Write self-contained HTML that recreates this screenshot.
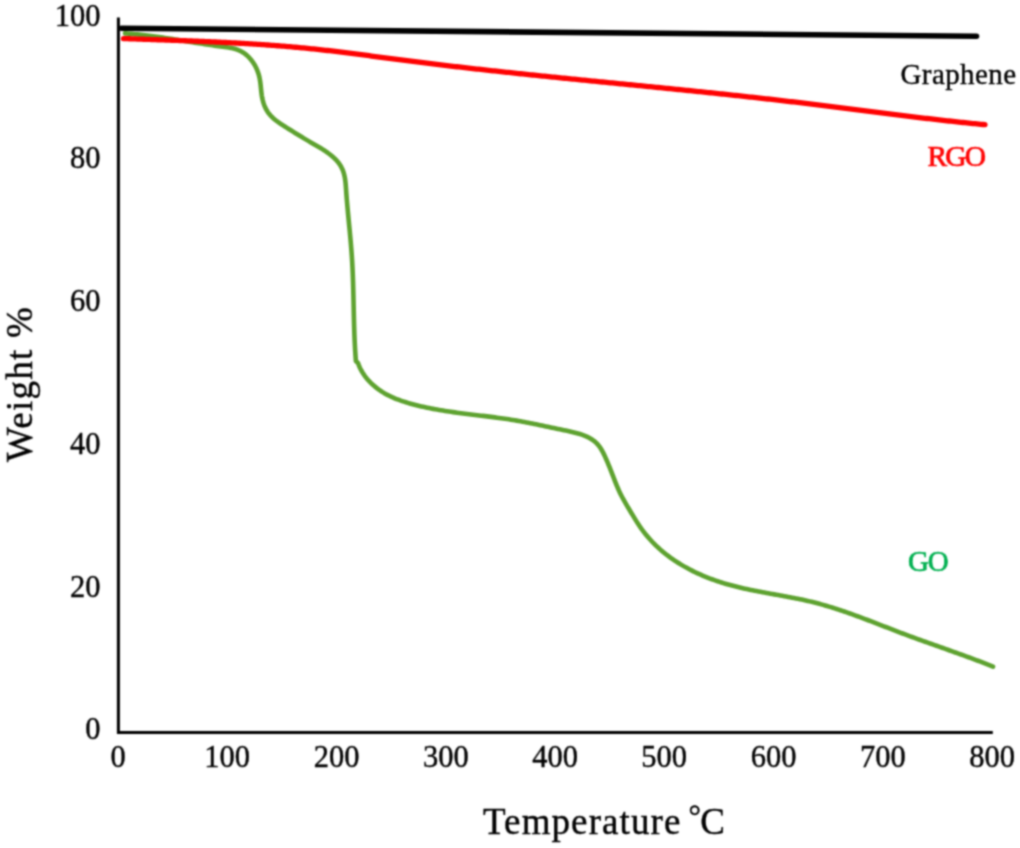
<!DOCTYPE html>
<html><head><meta charset="utf-8"><style>
html,body{margin:0;padding:0;background:#fff;}
svg{display:block;}
text{font-family:"Liberation Serif",serif;}
</style></head><body>
<svg width="1020" height="848" viewBox="0 0 1020 848">
<defs><filter id="bl" x="0" y="0" width="1020" height="848" filterUnits="userSpaceOnUse" color-interpolation-filters="sRGB"><feConvolveMatrix order="5" kernelMatrix="0.0009 0.0069 0.0139 0.0069 0.0009 0.0069 0.0554 0.1107 0.0554 0.0069 0.0139 0.1107 0.2211 0.1107 0.0139 0.0069 0.0554 0.1107 0.0554 0.0069 0.0009 0.0069 0.0139 0.0069 0.0009" edgeMode="duplicate"/></filter></defs>
<g filter="url(#bl)">
<rect width="1020" height="848" fill="#fff"/>
<polyline points="118.4,17.6 118.4,732.4 992.8,732.4" fill="none" stroke="#000" stroke-width="3.0" stroke-linejoin="miter"/>
<polyline points="121.5,28.2 976.5,36.3" fill="none" stroke="#000" stroke-width="5.6" stroke-linecap="round"/>
<path d="M125.00,33.40 L127.02,33.54 L129.03,33.69 L131.05,33.86 L133.05,34.03 L135.06,34.22 L137.07,34.41 L139.07,34.61 L141.07,34.82 L143.07,35.05 L145.06,35.27 L147.05,35.51 L149.05,35.76 L151.04,36.01 L153.03,36.27 L155.01,36.53 L157.00,36.80 L158.98,37.08 L160.97,37.36 L162.95,37.65 L164.93,37.94 L166.91,38.24 L168.90,38.54 L170.88,38.84 L172.86,39.14 L174.84,39.45 L176.82,39.76 L178.80,40.08 L180.78,40.39 L182.76,40.71 L184.74,41.02 L186.72,41.34 L188.70,41.66 L190.68,41.97 L192.66,42.29 L194.65,42.61 L196.63,42.92 L198.62,43.23 L200.61,43.54 L202.60,43.85 L204.59,44.15 L206.58,44.45 L208.58,44.75 L210.57,45.04 L212.57,45.33 L214.57,45.62 L216.57,45.90 L218.58,46.17 L220.59,46.44 L222.60,46.70 L224.61,46.96 L226.61,47.23 L228.61,47.53 L230.59,47.87 L232.54,48.28 L234.47,48.75 L236.35,49.32 L238.20,49.99 L240.00,50.78 L241.74,51.70 L243.43,52.74 L245.05,53.90 L246.61,55.16 L248.09,56.52 L249.50,57.97 L250.84,59.50 L252.09,61.10 L253.26,62.75 L254.34,64.47 L255.34,66.23 L256.25,68.05 L257.07,69.90 L257.81,71.79 L258.46,73.71 L259.02,75.65 L259.49,77.61 L259.87,79.59 L260.19,81.58 L260.45,83.57 L260.67,85.57 L260.87,87.58 L261.07,89.59 L261.28,91.59 L261.52,93.59 L261.80,95.59 L262.14,97.57 L262.56,99.54 L263.05,101.48 L263.63,103.40 L264.30,105.28 L265.05,107.11 L265.91,108.89 L266.87,110.61 L267.93,112.26 L269.11,113.83 L270.39,115.33 L271.76,116.77 L273.21,118.14 L274.74,119.46 L276.33,120.73 L277.96,121.95 L279.64,123.13 L281.35,124.29 L283.09,125.41 L284.83,126.52 L286.57,127.60 L288.29,128.68 L290.01,129.76 L291.72,130.82 L293.41,131.88 L295.10,132.93 L296.79,133.97 L298.48,135.01 L300.17,136.05 L301.86,137.07 L303.55,138.10 L305.25,139.11 L306.97,140.13 L308.69,141.13 L310.43,142.14 L312.19,143.14 L313.94,144.15 L315.70,145.16 L317.46,146.18 L319.21,147.22 L320.96,148.28 L322.68,149.36 L324.39,150.46 L326.07,151.60 L327.73,152.76 L329.35,153.97 L330.94,155.22 L332.48,156.51 L333.98,157.85 L335.43,159.24 L336.80,160.69 L338.10,162.21 L339.29,163.79 L340.38,165.44 L341.35,167.14 L342.22,168.91 L342.97,170.72 L343.61,172.58 L344.14,174.47 L344.59,176.40 L344.95,178.35 L345.24,180.34 L345.48,182.34 L345.68,184.36 L345.84,186.38 L345.99,188.42 L346.13,190.45 L346.27,192.49 L346.42,194.52 L346.57,196.54 L346.73,198.57 L346.90,200.59 L347.07,202.61 L347.24,204.62 L347.42,206.64 L347.60,208.65 L347.78,210.65 L347.97,212.66 L348.16,214.67 L348.35,216.67 L348.54,218.67 L348.73,220.67 L348.92,222.67 L349.11,224.66 L349.31,226.66 L349.50,228.65 L349.69,230.65 L349.88,232.64 L350.06,234.63 L350.25,236.63 L350.43,238.62 L350.61,240.61 L350.78,242.61 L350.95,244.60 L351.11,246.59 L351.27,248.59 L351.43,250.58 L351.58,252.57 L351.72,254.57 L351.86,256.57 L351.98,258.57 L352.11,260.57 L352.22,262.57 L352.33,264.57 L352.43,266.57 L352.53,268.58 L352.62,270.58 L352.71,272.59 L352.79,274.60 L352.86,276.61 L352.93,278.62 L353.00,280.63 L353.07,282.64 L353.13,284.65 L353.18,286.66 L353.24,288.67 L353.29,290.68 L353.34,292.70 L353.39,294.71 L353.44,296.72 L353.48,298.74 L353.53,300.75 L353.57,302.77 L353.61,304.78 L353.66,306.80 L353.70,308.81 L353.74,310.82 L353.79,312.84 L353.83,314.85 L353.88,316.87 L353.93,318.88 L353.98,320.89 L354.04,322.91 L354.09,324.92 L354.15,326.93 L354.21,328.94 L354.28,330.95 L354.35,332.96 L354.42,334.97 L354.50,336.98 L354.58,338.99 L354.67,340.99 L354.77,343.00 L354.87,345.00 L354.97,347.01 L355.08,349.01 L355.20,351.01 L355.33,353.01 L355.46,355.01 L355.60,357.01 L355.74,359.01 L355.90,361.00 L358.10,363.20 L358.79,365.08 L359.55,366.92 L360.40,368.72 L361.32,370.48 L362.32,372.20 L363.38,373.88 L364.52,375.52 L365.71,377.12 L366.97,378.68 L368.28,380.20 L369.65,381.67 L371.07,383.10 L372.54,384.49 L374.06,385.83 L375.61,387.12 L377.21,388.37 L378.84,389.57 L380.50,390.73 L382.19,391.84 L383.91,392.90 L385.66,393.91 L387.42,394.87 L389.21,395.78 L391.01,396.65 L392.82,397.48 L394.66,398.26 L396.51,399.01 L398.37,399.72 L400.24,400.41 L402.13,401.06 L404.02,401.68 L405.93,402.28 L407.84,402.86 L409.75,403.42 L411.68,403.96 L413.61,404.48 L415.54,404.99 L417.48,405.48 L419.42,405.95 L421.37,406.41 L423.32,406.85 L425.28,407.28 L427.24,407.70 L429.20,408.10 L431.17,408.49 L433.14,408.87 L435.12,409.24 L437.10,409.60 L439.08,409.94 L441.06,410.28 L443.05,410.60 L445.04,410.92 L447.03,411.23 L449.02,411.53 L451.02,411.82 L453.01,412.11 L455.01,412.39 L457.01,412.66 L459.01,412.93 L461.01,413.19 L463.02,413.45 L465.02,413.70 L467.02,413.95 L469.03,414.20 L471.03,414.45 L473.03,414.69 L475.04,414.94 L477.04,415.18 L479.04,415.42 L481.05,415.66 L483.05,415.90 L485.05,416.15 L487.04,416.39 L489.04,416.64 L491.04,416.89 L493.03,417.14 L495.02,417.40 L497.01,417.66 L499.00,417.93 L500.98,418.20 L502.96,418.48 L504.94,418.76 L506.91,419.05 L508.88,419.35 L510.85,419.66 L512.82,419.97 L514.78,420.29 L516.73,420.63 L518.69,420.97 L520.64,421.32 L522.58,421.67 L524.53,422.04 L526.47,422.41 L528.42,422.79 L530.36,423.17 L532.30,423.56 L534.25,423.96 L536.19,424.36 L538.14,424.76 L540.09,425.17 L542.05,425.58 L544.00,426.00 L545.96,426.42 L547.93,426.84 L549.90,427.26 L551.88,427.68 L553.86,428.10 L555.85,428.52 L557.84,428.94 L559.85,429.37 L561.86,429.79 L563.88,430.20 L565.91,430.62 L567.95,431.05 L569.98,431.48 L572.00,431.93 L574.02,432.40 L576.01,432.91 L577.98,433.45 L579.93,434.03 L581.84,434.65 L583.72,435.33 L585.56,436.07 L587.34,436.88 L589.08,437.76 L590.75,438.71 L592.37,439.75 L593.91,440.88 L595.38,442.10 L596.78,443.42 L598.09,444.85 L599.31,446.40 L600.46,448.04 L601.53,449.75 L602.54,451.54 L603.49,453.37 L604.40,455.24 L605.26,457.12 L606.09,459.00 L606.90,460.87 L607.69,462.72 L608.46,464.56 L609.22,466.40 L609.96,468.23 L610.70,470.08 L611.42,471.93 L612.15,473.80 L612.87,475.67 L613.59,477.55 L614.31,479.43 L615.05,481.31 L615.79,483.19 L616.55,485.06 L617.33,486.91 L618.12,488.76 L618.94,490.59 L619.79,492.40 L620.66,494.19 L621.56,495.95 L622.48,497.71 L623.43,499.45 L624.40,501.17 L625.38,502.89 L626.38,504.61 L627.39,506.32 L628.41,508.03 L629.43,509.75 L630.46,511.47 L631.50,513.20 L632.54,514.93 L633.59,516.67 L634.65,518.40 L635.72,520.13 L636.80,521.85 L637.90,523.56 L639.02,525.26 L640.16,526.94 L641.32,528.61 L642.51,530.24 L643.72,531.86 L644.95,533.45 L646.22,535.01 L647.50,536.55 L648.81,538.07 L650.14,539.56 L651.50,541.03 L652.88,542.48 L654.28,543.90 L655.70,545.30 L657.15,546.67 L658.61,548.02 L660.10,549.35 L661.61,550.66 L663.13,551.94 L664.67,553.20 L666.24,554.44 L667.82,555.66 L669.42,556.85 L671.03,558.02 L672.67,559.17 L674.31,560.30 L675.98,561.41 L677.66,562.49 L679.36,563.56 L681.07,564.60 L682.79,565.62 L684.53,566.62 L686.28,567.60 L688.05,568.56 L689.82,569.50 L691.61,570.42 L693.41,571.32 L695.22,572.20 L697.04,573.06 L698.88,573.90 L700.72,574.72 L702.57,575.52 L704.43,576.30 L706.30,577.07 L708.17,577.81 L710.06,578.53 L711.95,579.24 L713.84,579.93 L715.75,580.60 L717.66,581.25 L719.57,581.88 L721.49,582.50 L723.41,583.10 L725.34,583.68 L727.27,584.24 L729.21,584.78 L731.15,585.32 L733.09,585.83 L735.03,586.33 L736.98,586.82 L738.93,587.29 L740.88,587.76 L742.84,588.21 L744.80,588.65 L746.75,589.08 L748.72,589.50 L750.68,589.91 L752.65,590.31 L754.61,590.70 L756.58,591.09 L758.55,591.47 L760.52,591.85 L762.49,592.22 L764.47,592.58 L766.44,592.95 L768.41,593.31 L770.39,593.66 L772.36,594.02 L774.34,594.37 L776.31,594.73 L778.28,595.08 L780.26,595.44 L782.23,595.80 L784.20,596.16 L786.17,596.52 L788.14,596.89 L790.11,597.26 L792.08,597.64 L794.04,598.02 L796.01,598.41 L797.97,598.81 L799.93,599.21 L801.89,599.62 L803.84,600.04 L805.80,600.48 L807.75,600.92 L809.70,601.37 L811.64,601.84 L813.58,602.31 L815.52,602.81 L817.46,603.31 L819.39,603.83 L821.32,604.35 L823.25,604.89 L825.17,605.45 L827.09,606.01 L829.01,606.58 L830.93,607.17 L832.84,607.76 L834.75,608.37 L836.66,608.98 L838.56,609.60 L840.47,610.23 L842.37,610.87 L844.27,611.52 L846.17,612.17 L848.07,612.83 L849.96,613.50 L851.85,614.18 L853.74,614.86 L855.63,615.54 L857.52,616.24 L859.41,616.93 L861.30,617.63 L863.18,618.34 L865.06,619.05 L866.95,619.76 L868.83,620.48 L870.71,621.20 L872.59,621.92 L874.47,622.64 L876.35,623.37 L878.22,624.09 L880.10,624.82 L881.98,625.55 L883.86,626.28 L885.73,627.00 L887.61,627.73 L889.49,628.46 L891.36,629.18 L893.24,629.91 L895.12,630.63 L896.99,631.35 L898.87,632.06 L900.75,632.78 L902.63,633.49 L904.51,634.20 L906.39,634.90 L908.27,635.60 L910.15,636.29 L912.03,636.99 L913.92,637.67 L915.80,638.36 L917.68,639.04 L919.57,639.72 L921.45,640.40 L923.34,641.08 L925.22,641.76 L927.11,642.43 L928.99,643.10 L930.88,643.77 L932.76,644.44 L934.65,645.11 L936.54,645.78 L938.42,646.45 L940.31,647.11 L942.20,647.78 L944.08,648.45 L945.97,649.12 L947.85,649.79 L949.74,650.46 L951.63,651.13 L953.51,651.80 L955.40,652.48 L957.28,653.15 L959.17,653.83 L961.05,654.51 L962.94,655.19 L964.82,655.88 L966.70,656.56 L968.59,657.25 L970.47,657.95 L972.35,658.65 L974.23,659.35 L976.11,660.05 L977.99,660.76 L979.87,661.47 L981.75,662.19 L983.63,662.91 L985.50,663.64 L987.38,664.37 L989.25,665.11 L991.13,665.85 L993.00,666.60" fill="none" stroke="#5da22f" stroke-width="4.6" stroke-linecap="round" stroke-linejoin="round"/>
<path d="M123.50,38.55 L125.50,38.62 L127.51,38.69 L129.51,38.76 L131.51,38.83 L133.52,38.90 L135.52,38.97 L137.52,39.04 L139.53,39.11 L141.53,39.18 L143.54,39.25 L145.54,39.32 L147.54,39.39 L149.55,39.46 L151.55,39.53 L153.56,39.60 L155.56,39.67 L157.57,39.74 L159.57,39.81 L161.57,39.88 L163.58,39.95 L165.58,40.02 L167.59,40.09 L169.59,40.16 L171.60,40.23 L173.60,40.30 L175.60,40.38 L177.61,40.45 L179.61,40.53 L181.62,40.60 L183.62,40.68 L185.63,40.75 L187.63,40.83 L189.63,40.91 L191.64,40.99 L193.64,41.07 L195.65,41.15 L197.65,41.23 L199.65,41.31 L201.66,41.40 L203.66,41.48 L205.67,41.57 L207.67,41.66 L209.67,41.74 L211.68,41.83 L213.68,41.92 L215.68,42.02 L217.69,42.11 L219.69,42.21 L221.69,42.30 L223.69,42.40 L225.70,42.50 L227.70,42.60 L229.70,42.70 L231.70,42.81 L233.71,42.91 L235.71,43.02 L237.71,43.13 L239.71,43.24 L241.71,43.36 L243.71,43.47 L245.72,43.59 L247.72,43.71 L249.72,43.83 L251.72,43.95 L253.72,44.08 L255.72,44.20 L257.72,44.33 L259.72,44.46 L261.72,44.60 L263.72,44.73 L265.72,44.87 L267.72,45.01 L269.72,45.15 L271.71,45.30 L273.71,45.45 L275.71,45.60 L277.71,45.75 L279.71,45.91 L281.70,46.06 L283.70,46.22 L285.70,46.39 L287.70,46.55 L289.69,46.72 L291.69,46.89 L293.68,47.07 L295.68,47.25 L297.68,47.43 L299.67,47.61 L301.67,47.80 L303.66,47.98 L305.65,48.18 L307.65,48.37 L309.64,48.57 L311.64,48.77 L313.63,48.98 L315.62,49.19 L317.61,49.40 L319.61,49.61 L321.60,49.83 L323.59,50.05 L325.58,50.28 L327.57,50.50 L329.56,50.73 L331.55,50.97 L333.54,51.20 L335.53,51.44 L337.52,51.68 L339.51,51.92 L341.50,52.16 L343.49,52.41 L345.48,52.66 L347.47,52.91 L349.46,53.16 L351.45,53.41 L353.43,53.67 L355.42,53.92 L357.41,54.18 L359.40,54.44 L361.39,54.70 L363.37,54.96 L365.36,55.22 L367.35,55.48 L369.34,55.74 L371.32,56.01 L373.31,56.27 L375.30,56.53 L377.29,56.80 L379.27,57.06 L381.26,57.32 L383.25,57.59 L385.24,57.85 L387.22,58.12 L389.21,58.38 L391.20,58.64 L393.19,58.90 L395.18,59.16 L397.16,59.42 L399.15,59.68 L401.14,59.94 L403.13,60.20 L405.12,60.45 L407.11,60.71 L409.10,60.96 L411.08,61.21 L413.07,61.46 L415.06,61.71 L417.05,61.96 L419.04,62.21 L421.03,62.46 L423.02,62.71 L425.01,62.95 L427.00,63.20 L428.99,63.44 L430.98,63.68 L432.97,63.92 L434.96,64.16 L436.95,64.40 L438.94,64.64 L440.93,64.88 L442.92,65.12 L444.91,65.35 L446.90,65.59 L448.89,65.82 L450.89,66.05 L452.88,66.29 L454.87,66.52 L456.86,66.75 L458.85,66.98 L460.84,67.21 L462.83,67.44 L464.83,67.66 L466.82,67.89 L468.81,68.12 L470.80,68.34 L472.79,68.57 L474.79,68.79 L476.78,69.01 L478.77,69.23 L480.76,69.46 L482.76,69.68 L484.75,69.90 L486.74,70.12 L488.73,70.33 L490.73,70.55 L492.72,70.77 L494.71,70.99 L496.71,71.20 L498.70,71.42 L500.69,71.63 L502.69,71.85 L504.68,72.06 L506.67,72.27 L508.67,72.49 L510.66,72.70 L512.65,72.91 L514.65,73.12 L516.64,73.33 L518.63,73.54 L520.63,73.75 L522.62,73.96 L524.62,74.16 L526.61,74.37 L528.61,74.58 L530.60,74.79 L532.59,74.99 L534.59,75.20 L536.58,75.40 L538.58,75.61 L540.57,75.81 L542.57,76.02 L544.56,76.22 L546.55,76.42 L548.55,76.63 L550.54,76.83 L552.54,77.03 L554.53,77.23 L556.53,77.43 L558.52,77.64 L560.52,77.84 L562.51,78.04 L564.51,78.24 L566.50,78.44 L568.50,78.64 L570.49,78.84 L572.49,79.04 L574.48,79.23 L576.48,79.43 L578.47,79.63 L580.47,79.83 L582.46,80.03 L584.46,80.23 L586.46,80.42 L588.45,80.62 L590.45,80.82 L592.44,81.02 L594.44,81.21 L596.43,81.41 L598.43,81.61 L600.42,81.80 L602.42,82.00 L604.41,82.20 L606.41,82.39 L608.40,82.59 L610.40,82.79 L612.40,82.98 L614.39,83.18 L616.39,83.37 L618.38,83.57 L620.38,83.77 L622.37,83.96 L624.37,84.16 L626.36,84.36 L628.36,84.55 L630.36,84.75 L632.35,84.95 L634.35,85.14 L636.34,85.34 L638.34,85.53 L640.33,85.73 L642.33,85.93 L644.32,86.13 L646.32,86.32 L648.31,86.52 L650.31,86.72 L652.31,86.91 L654.30,87.11 L656.30,87.31 L658.29,87.51 L660.29,87.71 L662.28,87.91 L664.28,88.10 L666.27,88.30 L668.27,88.50 L670.26,88.70 L672.26,88.90 L674.25,89.10 L676.25,89.30 L678.24,89.50 L680.24,89.70 L682.23,89.90 L684.23,90.11 L686.22,90.31 L688.22,90.51 L690.21,90.71 L692.21,90.92 L694.20,91.12 L696.20,91.32 L698.19,91.53 L700.19,91.73 L702.18,91.94 L704.18,92.14 L706.17,92.35 L708.17,92.55 L710.16,92.76 L712.16,92.97 L714.15,93.17 L716.14,93.38 L718.14,93.59 L720.13,93.80 L722.13,94.01 L724.12,94.22 L726.11,94.43 L728.11,94.64 L730.10,94.85 L732.10,95.07 L734.09,95.28 L736.08,95.49 L738.08,95.71 L740.07,95.92 L742.06,96.14 L744.06,96.35 L746.05,96.57 L748.04,96.79 L750.04,97.01 L752.03,97.22 L754.02,97.44 L756.02,97.66 L758.01,97.88 L760.00,98.11 L762.00,98.33 L763.99,98.55 L765.98,98.77 L767.97,99.00 L769.97,99.22 L771.96,99.45 L773.95,99.68 L775.94,99.90 L777.94,100.13 L779.93,100.36 L781.92,100.59 L783.91,100.82 L785.90,101.05 L787.89,101.29 L789.89,101.52 L791.88,101.75 L793.87,101.99 L795.86,102.23 L797.85,102.46 L799.84,102.70 L801.83,102.94 L803.82,103.18 L805.81,103.42 L807.81,103.66 L809.80,103.90 L811.79,104.15 L813.78,104.39 L815.77,104.63 L817.76,104.88 L819.75,105.13 L821.74,105.37 L823.73,105.62 L825.72,105.87 L827.71,106.11 L829.70,106.36 L831.69,106.61 L833.68,106.86 L835.67,107.11 L837.66,107.36 L839.65,107.61 L841.64,107.86 L843.62,108.11 L845.61,108.37 L847.60,108.62 L849.59,108.87 L851.58,109.12 L853.57,109.37 L855.56,109.63 L857.55,109.88 L859.54,110.13 L861.53,110.38 L863.52,110.63 L865.51,110.89 L867.50,111.14 L869.49,111.39 L871.48,111.64 L873.47,111.89 L875.46,112.15 L877.45,112.40 L879.43,112.65 L881.42,112.90 L883.41,113.15 L885.40,113.40 L887.39,113.65 L889.38,113.90 L891.37,114.14 L893.36,114.39 L895.35,114.64 L897.34,114.89 L899.33,115.13 L901.32,115.38 L903.31,115.62 L905.30,115.87 L907.29,116.11 L909.28,116.35 L911.27,116.59 L913.26,116.84 L915.25,117.08 L917.24,117.32 L919.23,117.55 L921.23,117.79 L923.22,118.03 L925.21,118.26 L927.20,118.50 L929.19,118.73 L931.18,118.96 L933.17,119.19 L935.16,119.42 L937.16,119.65 L939.15,119.88 L941.14,120.11 L943.13,120.33 L945.12,120.55 L947.12,120.78 L949.11,121.00 L951.10,121.22 L953.09,121.44 L955.09,121.65 L957.08,121.87 L959.07,122.08 L961.07,122.29 L963.06,122.50 L965.05,122.71 L967.05,122.92 L969.04,123.12 L971.04,123.33 L973.03,123.53 L975.02,123.73 L977.02,123.93 L979.01,124.12 L981.01,124.32 L983.00,124.51 L985.00,124.70" fill="none" stroke="#ff0000" stroke-width="5.3" stroke-linecap="round" stroke-linejoin="round"/>
<g font-size="30.5" fill="#000" stroke="#000" stroke-width="0.4">
<text x="100.5" y="25.7" text-anchor="end">100</text>
<text x="100.5" y="168.4" text-anchor="end">80</text>
<text x="100.5" y="311.1" text-anchor="end">60</text>
<text x="100.5" y="453.8" text-anchor="end">40</text>
<text x="100.5" y="596.5" text-anchor="end">20</text>
<text x="100.5" y="739.2" text-anchor="end">0</text>
<text x="118.0" y="766.5" text-anchor="middle">0</text>
<text x="227.2" y="766.5" text-anchor="middle">100</text>
<text x="336.5" y="766.5" text-anchor="middle">200</text>
<text x="445.8" y="766.5" text-anchor="middle">300</text>
<text x="555.0" y="766.5" text-anchor="middle">400</text>
<text x="664.2" y="766.5" text-anchor="middle">500</text>
<text x="773.5" y="766.5" text-anchor="middle">600</text>
<text x="882.8" y="766.5" text-anchor="middle">700</text>
<text x="992.0" y="766.5" text-anchor="middle">800</text>
</g>
<text x="900.5" y="84" font-size="29" letter-spacing="0.4" fill="#000" stroke="#000" stroke-width="0.4">Graphene</text>
<text x="927.5" y="166" font-size="29.5" letter-spacing="-1.9" fill="#ff0000" stroke="#ff0000" stroke-width="0.7">RGO</text>
<text x="908" y="570.6" font-size="29" letter-spacing="-1.2" fill="#00b050" stroke="#00b050" stroke-width="0.7">GO</text>
<text x="483" y="834" font-size="37" fill="#000" stroke="#000" stroke-width="0.4"><tspan letter-spacing="1.1">Temperature </tspan><tspan x="688.6" y="827.3" font-size="31">°</tspan><tspan x="700.3" y="834">C</tspan></text>
<text transform="translate(32,462) rotate(-90)" font-size="37" letter-spacing="1.25" fill="#000" stroke="#000" stroke-width="0.4">Weight %</text>
</g>
</svg>
</body></html>
